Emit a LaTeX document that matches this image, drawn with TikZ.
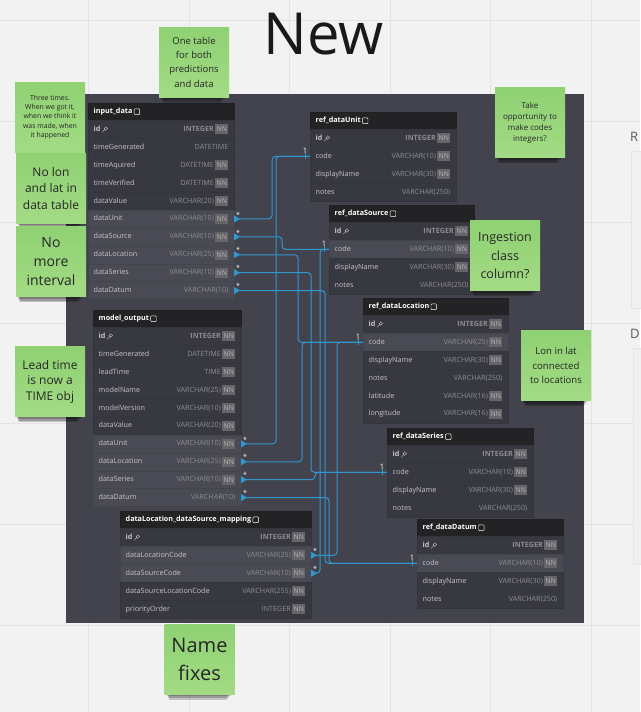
\documentclass[tikz,border=0pt]{standalone}
\usepackage{fontspec}
\setmainfont{Open Sans}
\usetikzlibrary{arrows.meta}

\definecolor{boardbg}{HTML}{F2F2F2}
\definecolor{boardgrid}{HTML}{E3E3E3}
\definecolor{panelbg}{HTML}{43434D}
\definecolor{headbg}{HTML}{232325}
\definecolor{rowplain}{HTML}{383841}
\definecolor{rowmark}{HTML}{4A4A54}
\definecolor{labeltext}{HTML}{C4C4C8}
\definecolor{typetext}{HTML}{8C8C92}
\definecolor{badgebg}{HTML}{66666A}
\definecolor{badgetext}{HTML}{B4B4B4}
\definecolor{linkblue}{HTML}{3097D0}
\definecolor{notetop}{HTML}{8FD173}
\definecolor{notebottom}{HTML}{A3DB84}

\tikzset{
    tablerow/.style={anchor=north west, inner sep=0pt, outer sep=0pt, fill=#1, draw=#1!92!black, line width=.3pt},
    rowtext/.style={inner sep=0pt, text height=5.6pt, text depth=1.6pt, font=\fontsize{7.2}{8}\selectfont},
    rowlabel/.style={rowtext, anchor=west, text=labeltext},
    rowtype/.style={rowtext, anchor=east, text=typetext},
    nnbadge/.style={anchor=east, inner sep=0pt, minimum width=13pt, minimum height=10pt, fill=badgebg,
        text=badgetext, font=\fontsize{6.8}{8}\selectfont},
    relline/.style={draw=linkblue, line width=1pt, rounded corners=3.5pt, {Triangle[reversed,length=6pt,width=7pt]}-},
    manylabel/.style={inner sep=0pt, text=white, font=\fontsize{7}{7}\selectfont},
    onelabel/.style={inner sep=0pt, text=white, font=\fontsize{7.5}{8}\selectfont},
    stickynote/.style={minimum width=70pt, minimum height=70pt, inner sep=0pt, align=center, text=black!85,
        top color=notetop, bottom color=notebottom},
    noteshadow/.style={fill=black, opacity=.2},
}

% name, title, left, right, top, rows after id
\newcommand{\dbtable}[6]{
    \node[tablerow=headbg, minimum width=#4pt-#3pt, minimum height=17.5pt] (#1) at (#3,#5) {};
    \node[rowlabel, text=white, font=\bfseries\fontsize{7.2}{8}\selectfont] (#1-title) at ([xshift=5.5pt]#1.west) {#2};
    \draw[white, line width=.45pt, rounded corners=.8pt] ([xshift=1.5pt,yshift=-2.8pt]#1-title.east) rectangle ++(5.6pt,5.6pt);
    \node[tablerow=rowplain, minimum width=#4pt-#3pt, minimum height=17.9pt] (#1-id) at (#3,#5+17.5) {};
    \node[rowlabel, font=\bfseries\fontsize{7.2}{8}\selectfont] (#1-id-label) at ([xshift=5.5pt]#1-id.west) {id};
    \draw[labeltext, line width=.4pt] ([xshift=5.2pt,yshift=.9pt]#1-id-label.east) circle (1.8pt)
        ([xshift=3.9pt,yshift=-.4pt]#1-id-label.east) -- ++(-2.4pt,-2.4pt);
    \node[nnbadge] (#1-id-nn) at ([xshift=-5.5pt]#1-id.east) {NN};
    \node[rowtype, font=\bfseries\fontsize{7.2}{8}\selectfont] (#1-id-type) at ([xshift=-1pt]#1-id-nn.west) {INTEGER};
    \foreach \rowname/\rowtypename/\nn/\rowfill [count=\i] in {#6} {
        \pgfmathsetmacro{\rowy}{#5+17.5+17.9*\i}
        \node[tablerow=\rowfill, minimum width=#4pt-#3pt, minimum height=17.9pt] (#1-\rowname) at (#3,\rowy) {};
        \node[rowlabel] (#1-\rowname-label) at ([xshift=5.5pt]#1-\rowname.west) {\rowname};
        \ifnum\nn=1
            \node[nnbadge] (#1-\rowname-nn) at ([xshift=-5.5pt]#1-\rowname.east) {NN};
            \node[rowtype] (#1-\rowname-type) at ([xshift=-1pt]#1-\rowname-nn.west) {\rowtypename};
        \else
            \node[rowtype] (#1-\rowname-type) at ([xshift=-5.5pt]#1-\rowname.east) {\rowtypename};
        \fi
    }
}
% from row, x of the vertical run, to row
\newcommand{\dbrelation}[3]{
    \draw[relline] (#1.east) -| (#2,0 |- #3.west) -- (#3.west);
    \node[manylabel] (#1-many) at ([xshift=4pt,yshift=4.5pt]#1.east) {*};
}
\newcommand{\dbone}[1]{
    \draw[linkblue, line width=1pt] ([xshift=-5pt,yshift=-3pt]#1.west) -- ++(0,6pt);
    \node[onelabel] (#1-one) at ([xshift=-5pt,yshift=6pt]#1.west) {1};
}
% name, x, y, font size, line skip, text
\newcommand{\stickyat}[6]{
    \fill[noteshadow] (#2-31,#3+30) rectangle (#2+27,#3+40.5);
    \fill[noteshadow] (#2-32,#3+30) rectangle (#2+29,#3+39);
    \fill[noteshadow] (#2-33,#3+30) rectangle (#2+31,#3+37);
    \node[stickynote, font=\fontsize{#4}{#5}\selectfont] (#1) at (#2,#3) {#6};
}

\begin{document}
\begin{tikzpicture}[x=1pt,y=-1pt]
    \useasboundingbox (0,0) rectangle (640,712);
    \fill[boardbg] (0,0) rectangle (640,712);
    \foreach \gx in {88,189,289,390,490,591}
        \draw[boardgrid, line width=1pt] (\gx,0) -- (\gx,712);
    \foreach \gy in {20,121,222,323,423,524,625}
        \draw[boardgrid, line width=1pt] (0,\gy) -- (640,\gy);

    \node[anchor=west, inner sep=0pt, text=black!65, font=\fontsize{13}{16}\selectfont] (sideR) at (630,137) {R};
    \draw[fill=black!6, draw=black!10] (631,151) rectangle (650,308);
    \node[anchor=west, inner sep=0pt, text=black!65, font=\fontsize{13}{16}\selectfont] (sideD) at (630,334) {D};
    \draw[fill=black!6, draw=black!10] (633,348) rectangle (650,564);

    \node[inner sep=0pt, text=black!90, font=\fontsize{58}{60}\selectfont] (boardtitle) at (323.5,34) {New};
    \fill[panelbg] (66,94) rectangle (584,623);

    \dbtable{inputdata}{input\_data}{88}{234}{103}{
        timeGenerated/DATETIME/0/rowplain, timeAquired/DATETIME/1/rowplain, timeVerified/DATETIME/1/rowplain,
        dataValue/VARCHAR(20)/1/rowplain, dataUnit/VARCHAR(10)/1/rowmark, dataSource/VARCHAR(10)/1/rowmark,
        dataLocation/VARCHAR(25)/1/rowmark, dataSeries/VARCHAR(10)/1/rowmark, dataDatum/VARCHAR(10)/0/rowmark}
    \dbtable{modeloutput}{model\_output}{93}{241}{310}{
        timeGenerated/DATETIME/1/rowplain, leadTime/TIME/1/rowplain, modelName/VARCHAR(25)/1/rowplain,
        modelVersion/VARCHAR(10)/1/rowplain, dataValue/VARCHAR(20)/1/rowplain, dataUnit/VARCHAR(10)/1/rowmark,
        dataLocation/VARCHAR(25)/1/rowmark, dataSeries/VARCHAR(10)/1/rowmark, dataDatum/VARCHAR(10)/0/rowmark}
    \dbtable{mapping}{dataLocation\_dataSource\_mapping}{120}{311}{511}{
        dataLocationCode/VARCHAR(25)/1/rowmark, dataSourceCode/VARCHAR(10)/1/rowmark,
        dataSourceLocationCode/VARCHAR(255)/1/rowplain, priorityOrder/INTEGER/1/rowplain}
    \dbtable{refunit}{ref\_dataUnit}{310}{456}{112}{
        code/VARCHAR(10)/1/rowplain, displayName/VARCHAR(30)/1/rowplain, notes/VARCHAR(250)/0/rowplain}
    \dbtable{refsource}{ref\_dataSource}{329}{474}{205}{
        code/VARCHAR(10)/1/rowmark, displayName/VARCHAR(30)/1/rowplain, notes/VARCHAR(250)/0/rowplain}
    \dbtable{reflocation}{ref\_dataLocation}{363}{508}{298}{
        code/VARCHAR(25)/1/rowmark, displayName/VARCHAR(30)/1/rowplain, notes/VARCHAR(250)/0/rowplain,
        latitude/VARCHAR(16)/1/rowplain, longitude/VARCHAR(16)/1/rowplain}
    \dbtable{refseries}{ref\_dataSeries}{387}{533}{428}{
        code/VARCHAR(10)/1/rowplain, displayName/VARCHAR(30)/1/rowplain, notes/VARCHAR(250)/0/rowplain}
    \dbtable{refdatum}{ref\_dataDatum}{417}{563}{519}{
        code/VARCHAR(10)/1/rowmark, displayName/VARCHAR(30)/1/rowplain, notes/VARCHAR(250)/0/rowplain}

    \dbrelation{inputdata-dataUnit}{272}{refunit-code}
    \dbrelation{modeloutput-dataUnit}{276}{refunit-code}
    \dbrelation{inputdata-dataSource}{282}{refsource-code}
    \dbrelation{mapping-dataSourceCode}{320}{refsource-code}
    \dbrelation{inputdata-dataLocation}{298}{reflocation-code}
    \dbrelation{modeloutput-dataLocation}{302}{reflocation-code}
    \dbrelation{mapping-dataLocationCode}{337}{reflocation-code}
    \dbrelation{inputdata-dataSeries}{311}{refseries-code}
    \dbrelation{modeloutput-dataSeries}{315}{refseries-code}
    \dbrelation{inputdata-dataDatum}{325}{refdatum-code}
    \dbrelation{modeloutput-dataDatum}{329}{refdatum-code}
    \dbone{refunit-code}
    \dbone{refsource-code}
    \dbone{reflocation-code}
    \dbone{refseries-code}
    \dbone{refdatum-code}

    \stickyat{noteonetable}{194}{62}{9.5}{14.3}{One table\\for both\\predictions\\and data}
    \stickyat{notetimes}{50}{117}{6.9}{9.3}{Three times.\\When we got it,\\when we think it\\was made, when\\it happened}
    \stickyat{notelonlat}{51}{188}{12}{16.5}{No lon\\and lat in\\data table}
    \stickyat{noteinterval}{51}{261.5}{14}{19}{No\\more\\interval}
    \stickyat{noteleadtime}{50}{381.5}{12}{15.5}{Lead time\\is now a\\TIME obj}
    \stickyat{notecodes}{530}{122.5}{8}{11}{Take\\opportunity to\\make codes\\integers?}
    \stickyat{noteingestion}{505}{255.5}{12.5}{18.3}{Ingestion\\class\\column?}
    \stickyat{notelocations}{556}{365.5}{9.6}{14.5}{Lon in lat\\connected\\to locations}
    \stickyat{notenames}{199.5}{659}{20}{28}{Name\\fixes}
\end{tikzpicture}
\end{document}
